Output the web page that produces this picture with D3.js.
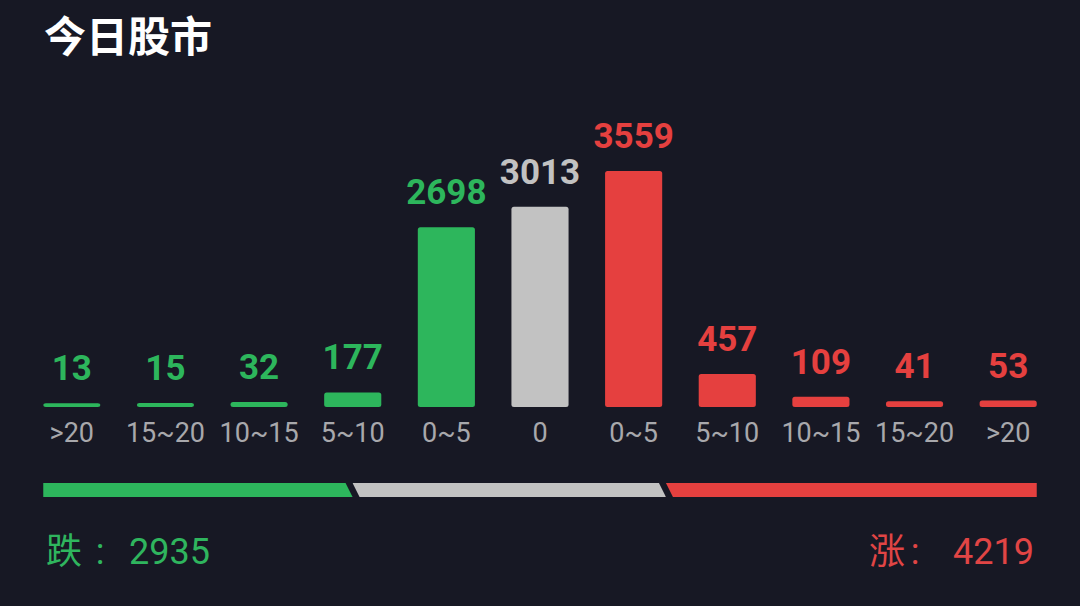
<!DOCTYPE html>
<html>
<head>
<meta charset="utf-8">
<script src="https://cdn.jsdelivr.net/npm/d3@7"></script>
<style>
  html, body { margin: 0; padding: 0; background: #171824; }
  svg { display: block; }
</style>
</head>
<body>
<svg id="chart" width="1080" height="606"></svg>
<script>
// data
var categories = [">20", "15~20", "10~15", "5~10", "0~5", "0", "0~5", "5~10", "10~15", "15~20", ">20"];
var counts = [13, 15, 32, 177, 2698, 3013, 3559, 457, 109, 41, 53];
var kinds = ["down", "down", "down", "down", "down", "flat", "up", "up", "up", "up", "up"];
var totalLabels = ["跌", "涨"];
var totals = { down: 2935, flat: 3013, up: 4219 };

var green = "#2db65c", grey = "#c2c2c2", red = "#e5403f", bg = "#171824";
var colorOf = { down: green, flat: grey, up: red };

var svg = d3.select("#chart");
var W = +svg.attr("width");
var cjk = "'Noto Sans CJK SC', 'Noto Sans', sans-serif";
var num = "Roboto, 'Noto Sans', sans-serif";

svg.append("rect").attr("width", W).attr("height", +svg.attr("height")).attr("fill", bg);

svg.append("text")
    .attr("x", 44).attr("y", 52)
    .attr("fill", "#ffffff")
    .attr("font-family", cjk)
    .attr("font-weight", "bold")
    .attr("font-size", 42)
    .text("今日股市");

var baseY = 407;
var x = d3.scaleBand()
    .domain(d3.range(categories.length))
    .range([25, 1055])
    .paddingInner(0.39)
    .paddingOuter(0.195);
// small counts still get a thin visible bar
var h = d3.scaleLinear().domain([0, d3.max(counts)]).range([3, 236]);

var bars = svg.append("g").selectAll("g").data(counts).enter().append("g");

bars.append("rect")
    .attr("x", function(d, i) { return x(i) })
    .attr("y", function(d) { return baseY - h(d) })
    .attr("width", x.bandwidth())
    .attr("height", function(d) { return h(d) })
    .attr("rx", 2.5)
    .attr("fill", function(d, i) { return colorOf[kinds[i]] });

bars.append("text")
    .attr("x", function(d, i) { return x(i) + x.bandwidth() / 2 })
    .attr("y", function(d) { return baseY - h(d) - 23 })
    .attr("text-anchor", "middle")
    .attr("font-family", num)
    .attr("font-weight", "bold")
    .attr("font-size", 35)
    .attr("fill", function(d, i) { return colorOf[kinds[i]] })
    .text(function(d) { return d });

bars.append("text")
    .attr("x", function(d, i) { return x(i) + x.bandwidth() / 2 })
    .attr("y", 442)
    .attr("text-anchor", "middle")
    .attr("font-family", num)
    .attr("font-size", 27)
    .attr("fill", "#a8a8ac")
    .text(function(d, i) { return categories[i] });

// share bar at the bottom
var shareKeys = ["down", "flat", "up"];
var x0 = x(0), x1 = x(categories.length - 1) + x.bandwidth();
var w = d3.scaleSqrt().domain([0, 1]).range([0, 1]);
var weights = shareKeys.map(function(k) { return w(totals[k]) });
var sumW = d3.sum(weights);
var s = d3.scaleLinear().domain([0, sumW]).range([x0, x1]);
var acc = 0, segs = [];
shareKeys.forEach(function(k, i) {
    segs.push({ k: k, a: s(acc), b: s(acc + weights[i]) });
    acc += weights[i];
});

var barTop = 483, barH = 14;
svg.append("g").selectAll("rect").data(segs).enter().append("rect")
    .attr("x", function(d) { return d.a })
    .attr("y", barTop)
    .attr("width", function(d) { return d.b - d.a })
    .attr("height", barH)
    .attr("fill", function(d) { return colorOf[d.k] });

svg.append("g").selectAll("path").data(segs.slice(0, 2)).enter().append("path")
    .attr("d", function(d) {
        var b = d.b;
        return "M" + (b - 7) + "," + barTop + "L" + b + "," + barTop +
            "L" + (b + 7) + "," + (barTop + barH) + "L" + b + "," + (barTop + barH) + "Z";
    })
    .attr("fill", bg);

// totals
var footY = 564;
function part(xPos, anchor, font, size, color, txt) {
    svg.append("text")
        .attr("x", xPos).attr("y", footY)
        .attr("text-anchor", anchor)
        .attr("font-family", font)
        .attr("font-size", size)
        .attr("fill", color)
        .text(txt);
}
var downC = "#2fb55e", upC = "#e14545";
part(46, "start", cjk, 36, downC, totalLabels[0]);
part(100, "middle", num, 36, downC, ":");
part(129, "start", num, 36, downC, totals.down);
part(869, "start", cjk, 36, upC, totalLabels[1]);
part(915, "middle", num, 36, upC, ":");
part(1034, "end", num, 36, upC, totals.up);
</script>
</body>
</html>
